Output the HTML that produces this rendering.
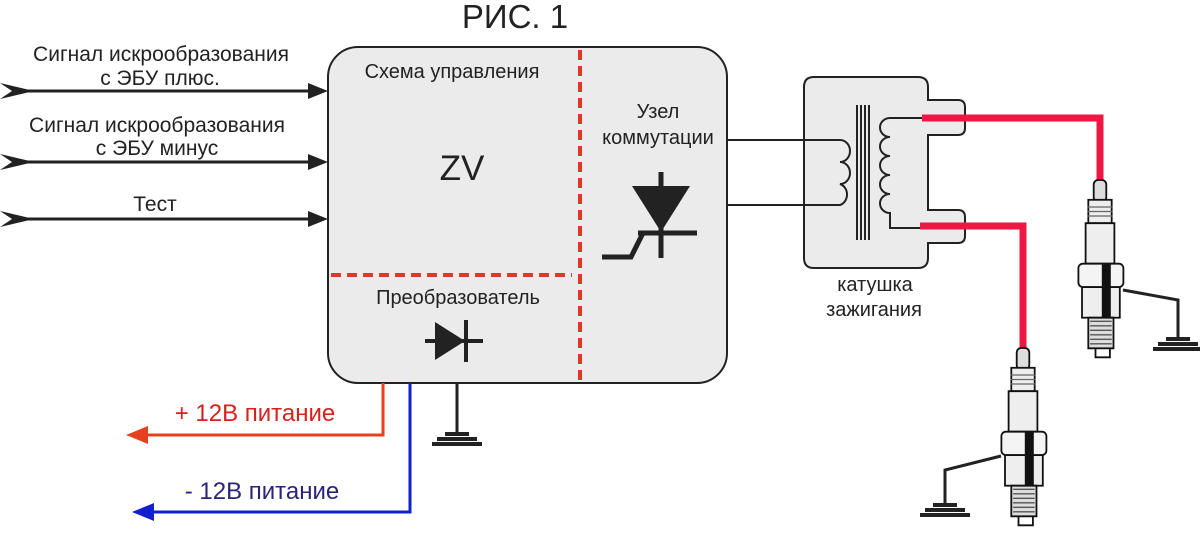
<!DOCTYPE html>
<html><head><meta charset="utf-8"><style>
body{margin:0;background:#fff}
svg{display:block}
text{font-family:"Liberation Sans",Arial,sans-serif;fill:#222}
</style></head><body>
<svg width="1200" height="539" viewBox="0 0 1200 539">
<defs>
<g id="plug">
 <rect x="-7" y="0" width="14" height="24" rx="5" fill="#ddd" stroke="#111" stroke-width="2"/>
 <rect x="-13" y="22" width="26" height="26" fill="#eee" stroke="#111" stroke-width="2"/>
 <path d="M-16 48 h32 v45 h-32z" fill="#eee" stroke="#111" stroke-width="2"/>
 <path d="M-14 30 h28 M-14 35 h28 M-14 40 h28" stroke="#666" stroke-width="1.5"/>
 <rect x="-24" y="93" width="50" height="26" rx="5" fill="#f4f4f4" stroke="#111" stroke-width="2"/>
 <rect x="-20" y="119" width="42" height="34" fill="#eee" stroke="#111" stroke-width="2"/>
 <rect x="2" y="93" width="10" height="60" fill="#111"/>
 <path d="M-13 153 h28 v34 h-28z" fill="#ddd" stroke="#111" stroke-width="2"/>
 <path d="M-11 157 h24 M-11 162 h24 M-11 167 h24 M-11 172 h24 M-11 177 h24 M-11 182 h24" stroke="#555" stroke-width="1.5"/>
 <path d="M-5 187 v10 h16 v-10" fill="none" stroke="#111" stroke-width="2"/>
</g>
<g id="gnd">
 <rect x="-12" y="0" width="24" height="4" fill="#222"/>
 <rect x="-20" y="5" width="40" height="4" fill="#222"/>
 <rect x="-25" y="10" width="50" height="4" fill="#222"/>
</g>
</defs>

<text x="515" y="28" font-size="33" text-anchor="middle">РИС. 1</text>

<g stroke="#222" stroke-width="3">
<line x1="15" y1="91" x2="318" y2="91"/>
<line x1="15" y1="162" x2="318" y2="162"/>
<line x1="15" y1="219" x2="318" y2="219"/>
</g>
<g fill="#222">
<path d="M0 83 L34 91 L0 99 L12 91z"/><path d="M308 83 L328 91 L308 99z"/>
<path d="M0 154 L34 162 L0 170 L12 162z"/><path d="M308 154 L328 162 L308 170z"/>
<path d="M0 211 L34 219 L0 227 L12 219z"/><path d="M308 211 L328 219 L308 227z"/>
</g>
<text x="161" y="61" font-size="21" text-anchor="middle">Сигнал искрообразования</text>
<text x="160" y="85" font-size="21" text-anchor="middle">с ЭБУ плюс.</text>
<text x="157" y="132" font-size="21" text-anchor="middle">Сигнал искрообразования</text>
<text x="157" y="155" font-size="21" text-anchor="middle">с ЭБУ минус</text>
<text x="155" y="211" font-size="21" text-anchor="middle">Тест</text>

<rect x="328" y="47" width="399" height="336" rx="30" fill="#ebebeb" stroke="#222" stroke-width="2"/>
<line x1="580" y1="50" x2="580" y2="383" stroke="#e8332a" stroke-width="4" stroke-dasharray="10,6"/>
<line x1="331" y1="275" x2="572" y2="275" stroke="#e8332a" stroke-width="4" stroke-dasharray="10,6"/>
<text x="452" y="78" font-size="20" text-anchor="middle">Схема управления</text>
<text x="462" y="180" font-size="35" text-anchor="middle">ZV</text>
<text x="458" y="304" font-size="20" text-anchor="middle">Преобразователь</text>
<text x="658" y="118" font-size="20" text-anchor="middle">Узел</text>
<text x="658" y="144" font-size="20" text-anchor="middle">коммутации</text>
<line x1="425" y1="341" x2="483" y2="341" stroke="#222" stroke-width="4"/>
<path d="M435 322 L465 341 L435 360z" fill="#222"/>
<line x1="466" y1="320" x2="466" y2="362" stroke="#222" stroke-width="4"/>
<line x1="661" y1="172" x2="661" y2="258" stroke="#222" stroke-width="5"/>
<path d="M632 186 L690 186 L661 232z" fill="#222"/>
<line x1="638" y1="233" x2="697" y2="233" stroke="#222" stroke-width="5"/>
<path d="M602 257 L631 257 L643 233" fill="none" stroke="#222" stroke-width="5"/>

<path d="M814 77 H918 Q928 77 928 87 V100 H958 Q965 100 965 107 V128 Q965 135 958 135 H928 V210 H958 Q965 210 965 217 V236 Q965 243 958 243 H928 V258 Q928 268 918 268 H814 Q804 268 804 258 V87 Q804 77 814 77z" fill="#ebebeb" stroke="#222" stroke-width="2"/>
<g stroke="#222" stroke-width="2" fill="none">
<path d="M727 140 H840 A10 11 0 0 1 840 162 A10 11 0 0 1 840 184 A10 11 0 0 1 840 205 H727"/>
<path d="M857 105 V240 M861 105 V240 M865 105 V240 M869 105 V240"/>
<path d="M922 118 H890 A10 9.5 0 0 0 890 137 A10 9.5 0 0 0 890 156 A10 9.5 0 0 0 890 175 A10 9.5 0 0 0 890 194 A10 9.5 0 0 0 890 213 V228 H922"/>
</g>
<text x="875" y="291" font-size="20" text-anchor="middle">катушка</text>
<text x="874" y="316" font-size="20" text-anchor="middle">зажигания</text>

<path d="M922 118 H1100 V180" fill="none" stroke="#ee1744" stroke-width="7"/>
<path d="M920 226 H1023 V348" fill="none" stroke="#ee1744" stroke-width="7"/>

<use href="#plug" transform="translate(1100 180) scale(0.9)"/>
<use href="#plug" transform="translate(1023 348) scale(0.9)"/>
<path d="M1123 290 L1178 300 V340" fill="none" stroke="#222" stroke-width="3"/>
<use href="#gnd" x="1178" y="337"/>
<path d="M1001 456 L945 470 V505" fill="none" stroke="#222" stroke-width="3"/>
<use href="#gnd" x="945" y="503"/>

<path d="M383 383 V435 H145" fill="none" stroke="#e8401c" stroke-width="3"/>
<path d="M126 435 L148 426 L148 444z" fill="#e8401c"/>
<text x="255" y="421" font-size="24" text-anchor="middle" style="fill:#d8201c">+ 12В питание</text>
<path d="M410 383 V512 H150" fill="none" stroke="#1020d0" stroke-width="3"/>
<path d="M132 512 L154 503 L154 521z" fill="#1020d0"/>
<text x="262" y="499" font-size="24" text-anchor="middle" style="fill:#2a237a">- 12В питание</text>
<line x1="457" y1="383" x2="457" y2="432" stroke="#222" stroke-width="3"/>
<use href="#gnd" x="457" y="432"/>
</svg>
</body></html>
